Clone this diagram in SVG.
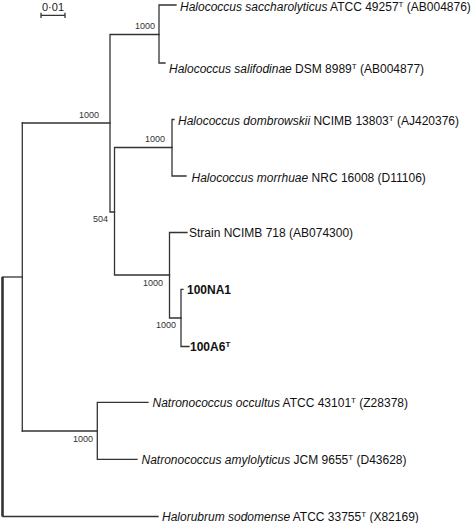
<svg xmlns="http://www.w3.org/2000/svg" width="474" height="523" viewBox="0 0 474 523">
<style>
.br{fill:none;stroke:#333;stroke-width:1.3;stroke-linecap:square}
.root{fill:none;stroke:#333;stroke-width:2.6}
.bs{font-family:"Liberation Sans",Arial,sans-serif;font-size:9px;fill:#333;text-anchor:end}
.lf{font-family:"Liberation Sans",Arial,sans-serif;font-size:12px;fill:#111}
.it{font-style:italic}
.b{font-weight:bold}
.sup{font-size:8px}
</style>
<rect width="474" height="523" fill="#fff"/>
<g id="scale">
<path class="br" d="M41,15.3H65M41,13.3V17.3M65,13.3V17.3"/>
<text x="53" y="10.5" text-anchor="middle" style="font-family:'Liberation Sans',Arial,sans-serif;font-size:11px;fill:#222">0·01</text>
</g>
<g id="connectors">
<path class="root" d="M2.5,277V516.5"/>
<path class="br" d="M2.5,277H22.3"/>
<path class="br" d="M22.3,123V431"/>
<path class="br" d="M22.3,123H110V34.5H159V5H176"/>
<path class="br" d="M159,34.5V63H165"/>
<path class="br" d="M110,123V212H114.5V147.5H172V119.5H174"/>
<path class="br" d="M172,147.5V176H186"/>
<path class="br" d="M114.5,212V275H169.5V232.5H187"/>
<path class="br" d="M169.5,275V318H181V289.3H183"/>
<path class="br" d="M181,318V346.5H189"/>
<path class="br" d="M22.3,431H97.3V402.3H148"/>
<path class="br" d="M97.3,431V459.3H137"/>
<path class="br" d="M3,516.5H158"/>
</g>
<g id="bootstrap">
<text class="bs" x="99" y="118">1000</text>
<text class="bs" x="155" y="29">1000</text>
<text class="bs" x="165" y="142">1000</text>
<text class="bs" x="108" y="222">504</text>
<text class="bs" x="163" y="286">1000</text>
<text class="bs" x="176" y="328">1000</text>
<text class="bs" x="93" y="442">1000</text>
</g>
<g id="leaf-saccharolyticus"><text class="lf" x="180" y="11"><tspan class="it">Halococcus saccharolyticus</tspan> ATCC 49257<tspan class="sup" dy="-4">T</tspan><tspan dy="4"> (AB004876)</tspan></text></g>
<g id="leaf-salifodinae"><text class="lf" x="169" y="73"><tspan class="it">Halococcus salifodinae</tspan> DSM 8989<tspan class="sup" dy="-4">T</tspan><tspan dy="4"> (AB004877)</tspan></text></g>
<g id="leaf-dombrowskii"><text class="lf" x="178" y="125"><tspan class="it">Halococcus dombrowskii</tspan> NCIMB 13803<tspan class="sup" dy="-4">T</tspan><tspan dy="4"> (AJ420376)</tspan></text></g>
<g id="leaf-morrhuae"><text class="lf" x="191.5" y="182"><tspan class="it">Halococcus morrhuae</tspan> NRC 16008 (D11106)</text></g>
<g id="leaf-strain"><text class="lf" x="189" y="237">Strain NCIMB 718 (AB074300)</text></g>
<g id="leaf-100NA1"><text class="lf b" x="187" y="293.5">100NA1</text></g>
<g id="leaf-100A6"><text class="lf b" x="190" y="351">100A6<tspan class="sup" dy="-4">T</tspan></text></g>
<g id="leaf-occultus"><text class="lf" x="152.5" y="406.5"><tspan class="it">Natronococcus occultus</tspan> ATCC 43101<tspan class="sup" dy="-4">T</tspan><tspan dy="4"> (Z28378)</tspan></text></g>
<g id="leaf-amylolyticus"><text class="lf" x="141.5" y="464"><tspan class="it">Natronococcus amylolyticus</tspan> JCM 9655<tspan class="sup" dy="-4">T</tspan><tspan dy="4"> (D43628)</tspan></text></g>
<g id="leaf-sodomense"><text class="lf" x="162" y="521"><tspan class="it">Halorubrum sodomense</tspan> ATCC 33755<tspan class="sup" dy="-4">T</tspan><tspan dy="4"> (X82169)</tspan></text></g>
</svg>
